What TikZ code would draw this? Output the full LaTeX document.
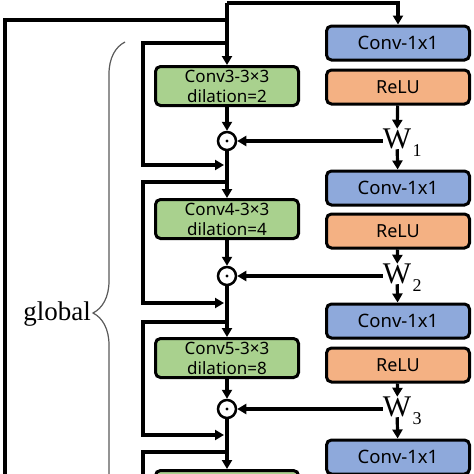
\documentclass[tikz,border=0pt]{standalone}
\usepackage{fontspec}
\setmainfont{Liberation Serif}
\setsansfont{Noto Sans}
\usetikzlibrary{arrows.meta,decorations.pathreplacing}
\definecolor{convBlue}{HTML}{8EA9DB}
\definecolor{reluOrange}{HTML}{F4B183}
\definecolor{dilGreen}{HTML}{A9D18E}
\newcommand{\boxFont}[0]{\sffamily\fontsize{17}{20}\selectfont}

\begin{document}
\begin{tikzpicture}[x=1pt, y=-1pt,
  link/.style={line width=3.2pt},
  arr/.style={link, -{Triangle[length=9pt,width=10pt]}},
  blk/.style={draw, line width=3pt, rounded corners=5pt, minimum width=143pt,
    font=\boxFont, inner sep=0pt, align=center},
  convbox/.style={blk, fill=convBlue, minimum height=34pt, font=\sffamily\fontsize{18.5}{20}\selectfont},
  relubox/.style={blk, fill=reluOrange, minimum height=34pt, font=\sffamily\fontsize{18}{20}\selectfont},
  dilbox/.style={blk, fill=dilGreen, minimum height=39pt},
  mult/.style={draw, circle, line width=2.5pt, minimum size=18pt, inner sep=0pt},
  wnode/.style={font=\fontsize{30}{30}\selectfont, inner sep=0pt},
  wsub/.style={font=\fontsize{18}{18}\selectfont, inner sep=0pt, anchor=north west}]
  \useasboundingbox (0,0) rectangle (474,474);
  \clip (0,0) rectangle (474,474);

  % right column
  \node[convbox] (cv1) at (398,43) {Conv-1x1};
  \node[relubox] (re1) at (398,87) {ReLU};
  \node[wnode] (w1) at (397,139) {W};
  \node[wsub] (w1s) at ([xshift=1pt,yshift=5pt]w1.south east) {1};
  \node[convbox] (cv2) at (398,188) {Conv-1x1};
  \node[relubox] (re2) at (398,231) {ReLU};
  \node[wnode] (w2) at (397,274) {W};
  \node[wsub] (w2s) at ([xshift=1pt,yshift=5pt]w2.south east) {2};
  \node[convbox] (cv3) at (398,321) {Conv-1x1};
  \node[relubox] (re3) at (398,365) {ReLU};
  \node[wnode] (w3) at (397,407) {W};
  \node[wsub] (w3s) at ([xshift=1pt,yshift=5pt]w3.south east) {3};
  \node[convbox] (cv4) at (398,457) {Conv-1x1};

  % trunk
  \node[dilbox] (dl1) at (227,86) {Conv3-3×3\\dilation=2};
  \node[mult] (m1) at (227,141) {};
  \node[dilbox] (dl2) at (227,219) {Conv4-3×3\\dilation=4};
  \node[mult] (m2) at (227,276) {};
  \node[dilbox] (dl3) at (227,358) {Conv5-3×3\\dilation=8};
  \node[mult] (m3) at (227,409) {};
  \node[dilbox] (dl4) at (227,490) {};
  \foreach \m in {m1,m2,m3}
    \fill (\m) circle (1.6pt);

  \coordinate (top) at (227,3);
  \coordinate (k0) at (227,20);
  \coordinate (e0) at (5,490);
  \coordinate (lp) at (143,0);
  \coordinate (k1) at (227,43);
  \coordinate (j1) at (224,165);
  \coordinate (k2) at (227,182);
  \coordinate (j2) at (224,303);
  \coordinate (k3) at (227,322);
  \coordinate (j3) at (224,435);
  \coordinate (k4) at (227,452);
  \coordinate (e4) at (143,490);

  \draw[arr] (top) -| (cv1.north);
  \draw[arr] (top) -- (dl1);
  \draw[link] (k0) -| (e0);
  \draw[arr] (dl1) -- (m1);
  \draw[arr] (m1) -- (dl2);
  \draw[arr] (dl2) -- (m2);
  \draw[arr] (m2) -- (dl3);
  \draw[arr] (dl3) -- (m3);
  \draw[arr] (m3) -- (dl4);

  % skip loops
  \draw[arr] (k1) -- (k1 -| lp) |- (j1);
  \draw[arr] (k2) -- (k2 -| lp) |- (j2);
  \draw[arr] (k3) -- (k3 -| lp) |- (j3);
  \draw[link] (k4) -- (k4 -| lp) -- (e4);

  % weights
  \draw[arr] (re1) -- (w1);
  \draw[arr] (w1) -- (cv2);
  \draw[arr] (w1.west |- m1.east) -- (m1.east);
  \draw[arr] (re2) -- (w2);
  \draw[arr] (w2) -- (cv3);
  \draw[arr] (w2.west |- m2.east) -- (m2.east);
  \draw[arr] (re3) -- (w3);
  \draw[arr] (w3) -- (cv4);
  \draw[arr] (w3.west |- m3.east) -- (m3.east);

  % brace
  \coordinate (b1) at (125,42);
  \coordinate (b2) at (125,584);
  \draw[decorate, decoration={brace, amplitude=32pt}, line width=1.2pt, black!65] (b2) -- (b1);
  \node[anchor=base east, font=\fontsize{27}{27}\selectfont, inner sep=0pt] (gl) at (91,320) {global};
\end{tikzpicture}
\end{document}
